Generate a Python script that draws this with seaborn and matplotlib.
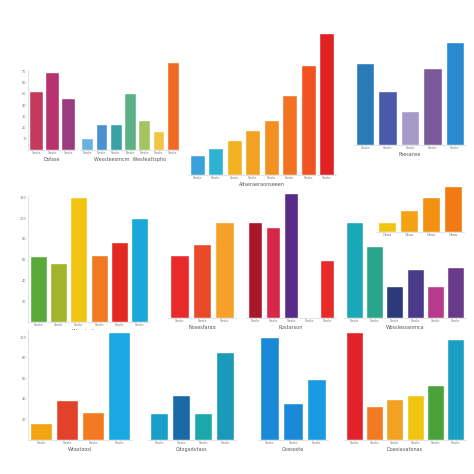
import matplotlib
matplotlib.use("Agg")
import matplotlib.pyplot as plt
import seaborn as sns
import pandas as pd

sns.set_theme(style="white")
plt.rcParams['font.family'] = ['DejaVu Sans']

W = 474
# values per panel
a_vals = [53, 70, 46]; a_cols = ['#c43a5c', '#b8336e', '#9c3c80']
b_vals = [12, 26, 26, 57, 30, 19, 88]; b_cols = ['#6ab0e2', '#4a90d2', '#3aa2a4', '#5cb284', '#a4c462', '#f2c444', '#f26a22']
c_vals = [20, 27, 35, 45, 55, 80, 110, 142]; c_cols = ['#3aa2da', '#2eb2d2', '#f2b222', '#f2a222', '#f29022', '#f27222', '#f25222', '#e02222']
d_vals = [77, 51, 32, 73, 97]; d_cols = ['#2a7ab8', '#4a5aa8', '#a898c8', '#7a5a9a', '#2a8ad0']
e_vals = [64, 57, 120, 65, 77, 100]; e_cols = ['#5aaa3a', '#a4b42a', '#f2c412', '#f07a22', '#e22a22', '#1aa8d8']
f_vals = [56, 66, 86]; f_cols = ['#e82a2a', '#e84a2a', '#f4a02a']
g_vals = [93, 88, 122, 0, 56]; g_cols = ['#a8182a', '#d8284a', '#5a2a8a', '#ffffff', '#e82a2a']
h_vals = [91, 68, 30, 46, 30, 48]; h_cols = ['#1aa8b8', '#2aa48a', '#2a3a7a', '#4a3a8a', '#b83a8a', '#6a3a8a']
h2_vals = [10, 22, 34, 45]; h2_cols = ['#f2c412', '#f2a212', '#f29012', '#f27a12']
i_vals = [17, 39, 27, 105]; i_cols = ['#f2a412', '#e2422a', '#f27a22', '#1aa8e2']
j_vals = [26, 43, 26, 85]; j_cols = ['#1aa0c8', '#1a6aa8', '#1aa8a8', '#1a9ab8']
k_vals = [100, 36, 59]; k_cols = ['#1a8ad8', '#1a8ad8', '#1a9ae2']
l_vals = [104, 33, 40, 43, 53, 97]; l_cols = ['#e2222a', '#f27a22', '#f2a222', '#f2c412', '#4aa23a', '#1aa0c2']

titles = ['Dsfase', 'Wessteesmcm  Wesfeattspho', 'Adseraeraonseeen', 'Psesanse',
          'Wersdesfasen', 'Nosesfarao', 'Rostarson', 'Wosslessanmca',
          'Wtastoosl', 'Cdogadvtass', 'Gossoste', 'Doesiavatonas']

# panel boxes in pixels: left, top, right, baseline
panels = [
    (a_vals, a_cols, (28, 70, 76, 150), True),
    (b_vals, b_cols, (80, 60, 180, 150), False),
    (c_vals, c_cols, (188, 30, 336, 175), False),
    (d_vals, d_cols, (354, 40, 466, 145), False),
    (e_vals, e_cols, (28, 195, 150, 322), True),
    (f_vals, f_cols, (168, 220, 236, 318), False),
    (g_vals, g_cols, (246, 190, 336, 318), False),
    (h_vals, h_cols, (344, 220, 466, 318), False),
    (i_vals, i_cols, (28, 330, 132, 440), True),
    (j_vals, j_cols, (148, 350, 236, 440), False),
    (k_vals, k_cols, (258, 335, 328, 440), False),
    (l_vals, l_cols, (344, 330, 466, 440), False),
]

fig = plt.figure(figsize=(4.74, 4.74), dpi=100)
for idx, (vals, cols, (l, t, r, b), yax) in enumerate(panels):
    ax = fig.add_axes([l / W, 1 - b / W, (r - l) / W, (b - t) / W])
    df = pd.DataFrame({'x': [f'Bar{i}' for i in range(len(vals))], 'v': vals})
    sns.barplot(data=df, x='x', y='v', hue='x', palette=cols, legend=False, ax=ax,
                width=0.82, saturation=1)
    ax.set_ylim(0, max(vals) * 1.02)
    ax.set_xlabel(titles[idx], fontsize=3.5, color='#555', labelpad=1)
    ax.set_ylabel('')
    ax.set_xticks(range(len(vals)))
    ax.set_xticklabels(['Sesle'] * len(vals), fontsize=2.5, color='#777')
    ax.tick_params(axis='x', length=0, pad=1)
    for s in ['top', 'right']:
        ax.spines[s].set_visible(False)
    ax.spines['bottom'].set_color('#ccc'); ax.spines['bottom'].set_linewidth(0.4)
    if yax:
        ax.spines['left'].set_color('#ccc'); ax.spines['left'].set_linewidth(0.4)
        ax.tick_params(axis='y', labelsize=2.5, colors='#777', length=0, pad=1)
        ax.set_yticks(ax.get_yticks()[1:-1])
    else:
        ax.spines['left'].set_visible(False)
        ax.set_yticks([])

ax = fig.add_axes([376 / W, 1 - 232 / W, 88 / W, 48 / W])
df = pd.DataFrame({'x': [f'B{i}' for i in range(4)], 'v': h2_vals})
sns.barplot(data=df, x='x', y='v', hue='x', palette=h2_cols, legend=False, ax=ax,
            width=0.82, saturation=1)
ax.set_xlabel(''); ax.set_ylabel(''); ax.set_yticks([])
ax.set_xticklabels(['Oeaa'] * 4, fontsize=2.5, color='#777')
ax.tick_params(axis='x', length=0, pad=1)
for s in ['top', 'right', 'left']:
    ax.spines[s].set_visible(False)
ax.spines['bottom'].set_color('#ccc'); ax.spines['bottom'].set_linewidth(0.4)
ax.patch.set_alpha(0)

fig.savefig('out.png', dpi=100, facecolor='white')
